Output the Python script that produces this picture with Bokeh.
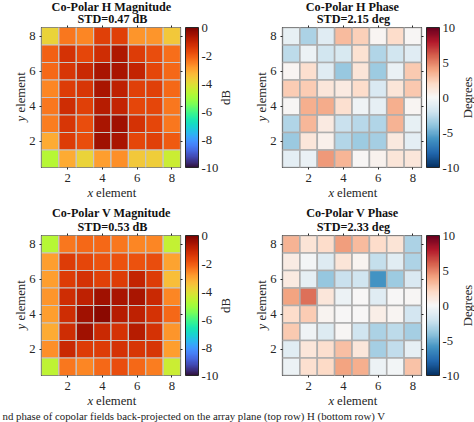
from bokeh.embed import file_html
from bokeh.resources import INLINE
from bokeh.plotting import figure
from bokeh.layouts import column, row
from bokeh.models import (ColorBar, ColumnDataSource, FixedTicker, Label,
                          LinearAxis, LinearColorMapper)
from bokeh.palettes import Turbo256, RdBu11
from bokeh.colors import RGB

x_elements = [1, 2, 3, 4, 5, 6, 7, 8]
y_elements_top_down = [8, 7, 6, 5, 4, 3, 2, 1]
axis_ticks = [2, 4, 6, 8]

h_magnitude = [
    [-3.8, -2.4, -2.6, -1.6, -1.6, -2.8, -2.8, -3.6],
    [-2.1, -1.3, -1.7, -1.2, -0.7, -1.5, -1.8, -2.3],
    [-2.2, -1.4, -1.1, -0.6, -0.6, -1.0, -1.7, -2.2],
    [-2.6, -1.5, -1.4, -0.6, -0.9, -1.6, -1.6, -2.2],
    [-2.4, -1.2, -1.6, -0.8, -1.0, -1.7, -1.7, -2.4],
    [-2.5, -1.4, -1.8, -0.6, -0.5, -1.3, -1.7, -2.4],
    [-3.1, -1.5, -1.8, -0.5, -0.6, -1.7, -1.6, -2.0],
    [-4.7, -3.1, -3.8, -2.9, -2.7, -3.6, -3.7, -4.4],
]
h_phase = [
    [-0.8, -3.2, -1.2, 3.2, 2.4, 0.2, 1.8, 0.1],
    [-2.6, -0.6, -1.9, -1.6, 1.5, -3.0, -1.9, -1.2],
    [0.2, 1.7, -1.2, -3.8, 1.3, -3.6, -0.7, 2.6],
    [2.5, 2.5, 1.2, 0.9, 1.8, -1.5, 1.3, 2.7],
    [0.1, 3.6, 3.7, 1.6, -0.4, -0.9, 3.6, 0.2],
    [-3.0, 3.3, 0.9, -2.2, -2.8, -3.0, 3.5, -0.8],
    [-3.7, 1.2, 0.5, -2.9, -3.6, -3.4, 1.0, -1.0],
    [-1.0, -0.7, 4.3, 3.4, 0.1, 0.4, 1.3, 1.2],
]
v_magnitude = [
    [-4.7, -2.4, -2.2, -2.2, -2.4, -2.6, -2.6, -4.5],
    [-2.9, -1.5, -1.7, -1.9, -1.9, -1.9, -1.8, -3.0],
    [-2.9, -1.5, -1.3, -1.6, -1.5, -1.0, -1.5, -3.4],
    [-2.8, -1.2, -0.9, -0.5, -0.6, -0.6, -1.1, -2.6],
    [-2.9, -1.2, -0.5, -0.2, -0.8, -0.9, -1.3, -2.2],
    [-3.1, -1.2, -0.5, -1.1, -1.3, -0.8, -1.3, -2.8],
    [-2.7, -1.1, -1.5, -1.5, -1.3, -1.4, -1.4, -2.9],
    [-4.6, -2.4, -2.6, -2.2, -1.8, -2.2, -2.5, -4.4],
]
v_phase = [
    [3.5, 1.4, 1.8, 4.2, 3.2, 1.8, 1.4, -3.2],
    [0.8, -0.2, -1.3, 1.3, 0.3, -2.4, -1.1, -3.1],
    [0.9, -0.9, -3.9, -2.2, -2.0, -6.0, -3.6, -1.5],
    [4.0, 5.5, 1.2, -0.6, 0.0, -1.2, 0.0, 0.1],
    [1.8, 2.5, 0.3, 0.0, 0.0, 0.7, 0.2, -1.8],
    [2.6, -0.4, -1.4, 0.1, -2.0, -3.2, -2.6, -3.4],
    [-1.1, 1.2, 1.7, 3.0, 1.2, -3.4, -2.5, -0.9],
    [-0.6, 1.6, 2.0, 4.0, 3.6, -0.6, -0.3, 2.9],
]

magnitude_ticks = [-10, -8, -6, -4, -2, 0]
phase_ticks = [-10, -5, 0, 5, 10]
panel_titles = ["Co-Polar H Magnitude", "Co-Polar H Phase", "Co-Polar V Magnitude", "Co-Polar V Phase"]
panel_stds = ["STD=0.47 dB", "STD=2.15 deg", "STD=0.53 dB", "STD=2.33 deg"]
caption = "nd phase of copolar fields back-projected on the array plane (top row) H (bottom row) V"

SERIF = "Liberation Serif"
INK = "#262626"
W, H = 474, 422
FW, FH = 139, 140
TEXT_PX = 12.7
TITLE_PX = 12.2


def smooth(colors, n=256):
    rgb = [tuple(int(c[i:i + 2], 16) for i in (1, 3, 5)) for c in colors]
    out = []
    for k in range(n):
        t = k / (n - 1) * (len(rgb) - 1)
        i = min(int(t), len(rgb) - 2)
        f = t - i
        out.append(RGB(*[round(rgb[i][j] + (rgb[i + 1][j] - rgb[i][j]) * f) for j in range(3)]).to_hex())
    return out


rd = list(RdBu11)
if int(rd[0][1:3], 16) > int(rd[0][5:7], 16):  # want blue at the low end
    rd = rd[::-1]
PHASE_PAL = smooth(rd)


def panel(values, palette, low, high, cticks, width, top, height, cell_line, cell_width):
    flat_x, flat_y, flat_v = [], [], []
    for yy, vals in zip(y_elements_top_down, values):
        for xx, v in zip(x_elements, vals):
            flat_x.append(xx)
            flat_y.append(yy)
            flat_v.append(v)
    src = ColumnDataSource(dict(x=flat_x, y=flat_y, v=flat_v))
    mapper = LinearColorMapper(palette=palette, low=low, high=high)
    left = 41
    p = figure(width=width, height=height, output_backend="svg", toolbar_location=None,
               x_range=(0.5, 8.5), y_range=(0.5, 8.5), frame_width=FW, frame_height=FH,
               min_border_left=left, min_border_top=top,
               min_border_right=width - left - FW,
               min_border_bottom=height - top - FH, tools="")
    p.grid.visible = False
    p.outline_line_color = INK
    p.outline_line_width = 1.2
    p.rect("x", "y", 1, 1, source=src, fill_color={"field": "v", "transform": mapper},
           line_color=cell_line, line_width=cell_width)

    for ax in (p.xaxis[0], p.yaxis[0]):
        ax.ticker = FixedTicker(ticks=axis_ticks)
        ax.major_label_text_font = SERIF
        ax.major_label_text_font_size = f"{TEXT_PX}px"
        ax.major_label_text_color = INK
        ax.major_label_standoff = 4
        ax.major_tick_in = 0
        ax.major_tick_out = 2
        ax.minor_tick_in = ax.minor_tick_out = 0
        ax.major_tick_line_color = INK
        ax.axis_line_color = None
    for side in ("above", "right"):
        extra = LinearAxis(ticker=FixedTicker(ticks=axis_ticks), major_label_text_font_size="0px",
                           major_label_text_color=None, major_tick_in=0, major_tick_out=2,
                           minor_tick_in=0, minor_tick_out=0, axis_line_color=None,
                           major_label_standoff=0, major_tick_line_color=INK)
        p.add_layout(extra, side)

    bar = ColorBar(color_mapper=mapper, ticker=FixedTicker(ticks=cticks), width=13, height=FH,
                   padding=0, margin=0, location=(FW + 5, 0),
                   major_label_overrides={t: str(t) for t in cticks},
                   major_label_text_font=SERIF, major_label_text_font_size=f"{TEXT_PX}px",
                   major_label_text_color=INK, major_tick_line_color=None,
                   minor_tick_line_color=None, bar_line_color=INK, bar_line_width=1,
                   label_standoff=3, background_fill_color=None)
    p.add_layout(bar, "center")
    return p


MAG_LINE, PHASE_LINE = "#c6c6c6", "#aeaeae"
p1 = panel(h_magnitude, Turbo256, -10, 0, magnitude_ticks, 241, 27, 205, MAG_LINE, 1.2)
p2 = panel(h_phase, PHASE_PAL, -10, 10, phase_ticks, 233, 27, 205, PHASE_LINE, 1.6)
p3 = panel(v_magnitude, Turbo256, -10, 0, magnitude_ticks, 241, 30, 217, MAG_LINE, 1.2)
p4 = panel(v_phase, PHASE_PAL, -10, 10, phase_ticks, 233, 30, 217, PHASE_LINE, 1.6)

# Transparent sheet over the whole page that carries the free-standing texts.
sheet = figure(width=W, height=H, output_backend="svg", toolbar_location=None, tools="",
               x_axis_type=None, y_axis_type=None, min_border=0, outline_line_color=None,
               x_range=(0, W), y_range=(H, 0), background_fill_color=None, border_fill_color=None)
sheet.grid.visible = False
sheet.styles = {"position": "absolute", "left": "0px", "top": "0px", "pointer-events": "none"}


def put(x, y, text, size=TEXT_PX, style="normal", align="left", angle=0, color=INK):
    # x, y name the text's baseline; Label's own anchor sits ~0.38 em below the baseline here
    off = 0.38 * size
    if angle:
        x -= off
    else:
        y -= off
    sheet.add_layout(Label(x=x, y=H - y, x_units="screen", y_units="screen", text=text,
                           text_font=SERIF, text_font_size=f"{size}px", text_font_style=style,
                           text_align=align, text_baseline="alphabetic", angle=angle,
                           angle_units="deg", text_color=color))


frames = [(41, 27, 230, "dB", 11), (282, 27, 472, "Degrees", 11),
          (41, 235, 230, "dB", 217), (282, 235, 472, "Degrees", 217)]
for (fx, fy, cbx, cb, title_y), title, std in zip(frames, panel_titles, panel_stds):
    cx = fx + FW / 2
    put(cx + 0.5, title_y, title, TITLE_PX, "bold", "center", color="#111111")
    put(cx + 1.5, fy - 4, std, TITLE_PX, "bold", "center", color="#111111")
    put(fx + 46, fy + FH + 30, "x", style="italic")
    put(fx + 54.5, fy + FH + 30, "element")
    put(fx - 16, fy + FH - 46, "y", style="italic", angle=90)
    put(fx - 16, fy + FH - 55, "element", angle=90)
    put(cbx, fy + FH / 2, cb, align="center", angle=90)
put(2, 419.5, caption, 10.8, color="#222222")

page = column(row(p1, p2), row(p3, p4), sheet, spacing=0)
page.styles = {"position": "absolute", "left": "0px", "top": "0px"}

open("out.html", "w").write(file_html(page, INLINE))
